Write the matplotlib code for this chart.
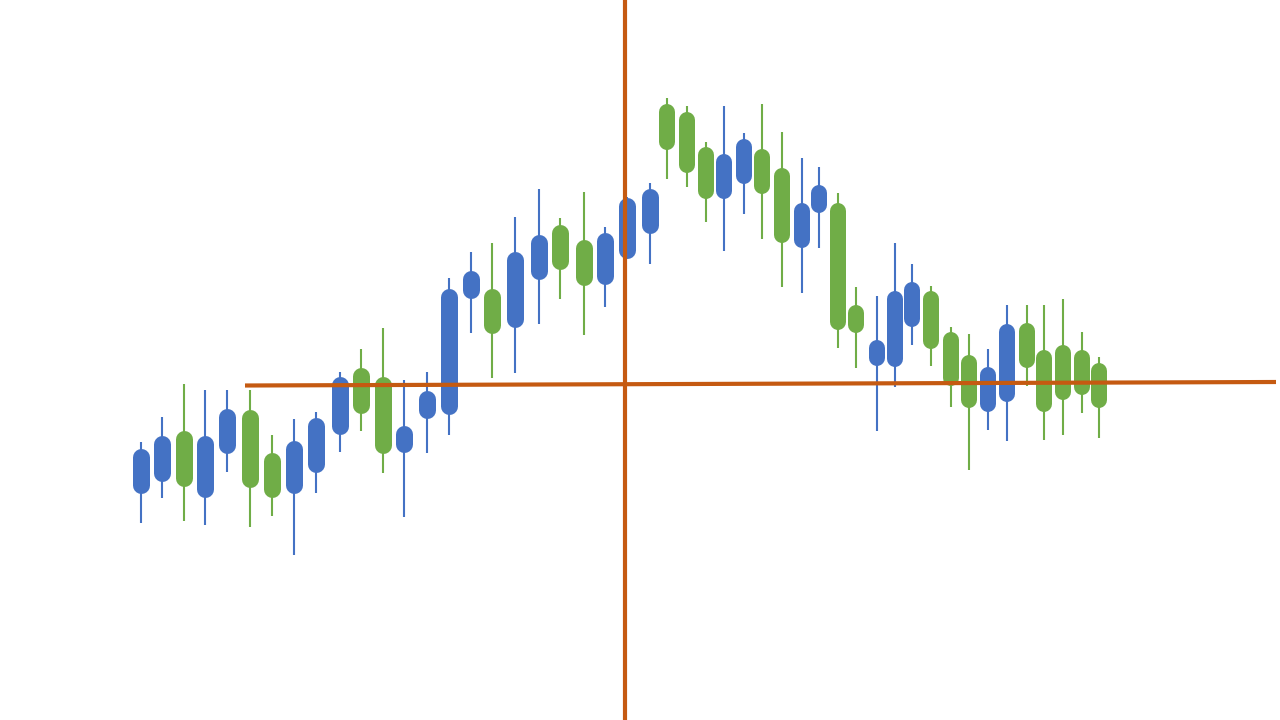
import matplotlib.pyplot as plt

# candle positions along the time axis (uneven spacing as in the picture)
x_pos = [141, 162, 184, 205, 227, 250, 272, 294, 316, 340, 361, 383, 404, 427,
         449, 471, 492, 515, 539, 560, 584, 605, 627, 650, 667, 687, 706, 724,
         744, 762, 782, 802, 819, 838, 856, 877, 895, 912, 931, 951, 969, 988,
         1007, 1027, 1044, 1063, 1082, 1099]

body_hi = [272, 285, 290, 285, 312, 311, 268, 280, 303, 344, 353, 344, 295, 330,
           432, 450, 432, 469, 486, 496, 481, 488, 523, 532, 616, 608, 573, 566,
           581, 571, 552, 517, 535, 517, 415, 380, 429, 438, 429, 388, 365, 353,
           396, 397, 370, 375, 370, 357]
body_lo = [227, 239, 234, 223, 267, 233, 223, 227, 248, 286, 307, 267, 268, 302,
           306, 422, 387, 393, 441, 451, 435, 436, 462, 487, 570, 547, 521, 521,
           536, 526, 477, 472, 507, 390, 387, 354, 353, 393, 371, 334, 312, 308,
           318, 352, 308, 320, 325, 312]
wick_hi = [278, 303, 336, 330, 330, 330, 285, 301, 308, 348, 371, 392, 340, 348,
           442, 468, 477, 503, 531, 502, 528, 493, 523, 537, 622, 614, 578, 614,
           587, 616, 588, 562, 553, 527, 433, 424, 477, 456, 434, 393, 386, 371,
           415, 415, 415, 421, 388, 363]
wick_lo = [197, 222, 199, 195, 248, 193, 204, 165, 227, 268, 289, 247, 203, 267,
           285, 387, 342, 347, 396, 421, 385, 413, 462, 456, 541, 533, 498, 469,
           506, 481, 433, 427, 472, 372, 352, 289, 333, 375, 354, 313, 250, 290,
           279, 334, 280, 285, 307, 282]
kind = "BBGBBGGBBBGGBBBBGBBGGBBBGGGBBGGBBGGBBBGGGBBGGGGG"

# reference lines
hline_x = [245, 1276]
hline_y = [334.5, 338]
vline_x = 625

colors = {"B": "#4472C4", "G": "#70AD47"}
line_color = "#C55A11"

fig = plt.figure(figsize=(12.8, 7.2), dpi=100)
ax = fig.add_axes([0, 0, 1, 1])
ax.set_xlim(0, 1280)
ax.set_ylim(0, 720)
ax.axis("off")

px = 72 / 100  # points per pixel

for i, x in enumerate(x_pos):
    c = colors[kind[i]]
    w = 17 if x < 660 else 16
    ax.plot([x, x], [wick_lo[i], wick_hi[i]], color=c, lw=1.5,
            solid_capstyle="butt", zorder=2)
    # capsule body: thick line with round caps
    r = w / 2
    lo, hi = body_lo[i] + r, body_hi[i] - r
    if hi < lo:
        lo = hi = (body_lo[i] + body_hi[i]) / 2
    ax.plot([x, x], [lo, hi], color=c, lw=w * px,
            solid_capstyle="round", zorder=3)

ax.plot(hline_x, hline_y, color=line_color, lw=3, solid_capstyle="butt", zorder=5)
ax.axvline(vline_x, color=line_color, lw=3, zorder=5)

fig.savefig("out.png", dpi=100)
